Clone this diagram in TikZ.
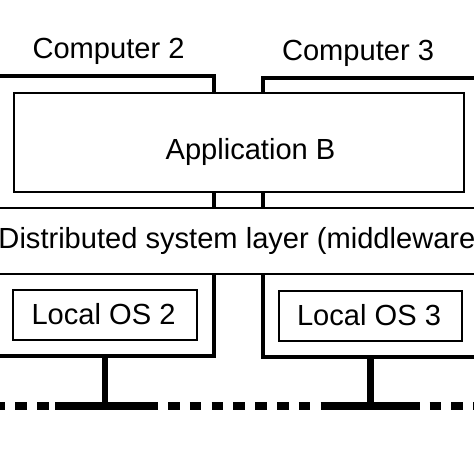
\documentclass[tikz,border=0pt]{standalone}
\usepackage{fontspec}
\setmainfont{Liberation Sans}
\begin{document}
\begin{tikzpicture}[x=1bp,y=-1bp,
  every node/.style={inner sep=0pt,outer sep=0pt},
  lbl/.style={anchor=base,font=\fontsize{29.2}{34}\selectfont},
  compbox/.style={draw,line width=3.5bp,rectangle},
  layerbox/.style={draw,fill=white,line width=2.5bp,rectangle},
  osbox/.style={draw,fill=white,line width=2.3bp,rectangle},
  stem/.style={line width=6.5bp},
  bussolid/.style={line width=7.5bp},
  busdash/.style={line width=7.5bp,dash pattern=on 11.5bp off 10.3bp}]
\useasboundingbox (0,0) rectangle (474,474);
\begin{scope}
\clip (0,0) rectangle (474,474);
% computers
\node[compbox,minimum width=244bp,minimum height=280bp] (c2) at (92,216) {};
\node[compbox,minimum width=247bp,minimum height=279bp] (c3) at (386.5,217.5) {};
% middleware layer
\node[layerbox,minimum width=494bp,minimum height=66bp] (mw) at (237,241) {};
% application
\node[layerbox,minimum width=450bp,minimum height=99bp] (app) at (239,142.5) {};
% local OS boxes
\node[osbox,minimum width=184bp,minimum height=50bp] (os2) at (105,315) {};
\node[osbox,minimum width=183bp,minimum height=50bp] (os3) at (370.5,316) {};
% labels
\node[lbl] (t2) at (108.5,59) {Computer 2};
\node[lbl] (t3) at (358,61) {Computer 3};
\node[lbl] (tapp) at (250.5,160) {Application B};
\node[lbl,anchor=base west] (tmw) at (-1.5,248) {Distributed system layer (middleware};
\node[lbl] (tos2) at (103.5,324) {Local OS 2};
\node[lbl] (tos3) at (369,325) {Local OS 3};
% network bus
\coordinate (busL) at (-6.4,406);
\coordinate (busR) at (480,406);
\coordinate (b2l) at (55,406);
\coordinate (b2r) at (157,406);
\coordinate (b3l) at (321,406);
\coordinate (b3r) at (420,406);
\draw[busdash] (busL) -- (busR);
\draw[bussolid] (b2l) -- (b2r);
\draw[bussolid] (b3l) -- (b3r);
\draw[stem] (os2 |- c2.south) -- (os2 |- b2l);
\draw[stem] (os3 |- c3.south) -- (os3 |- b3l);
\end{scope}
\end{tikzpicture}
\end{document}
